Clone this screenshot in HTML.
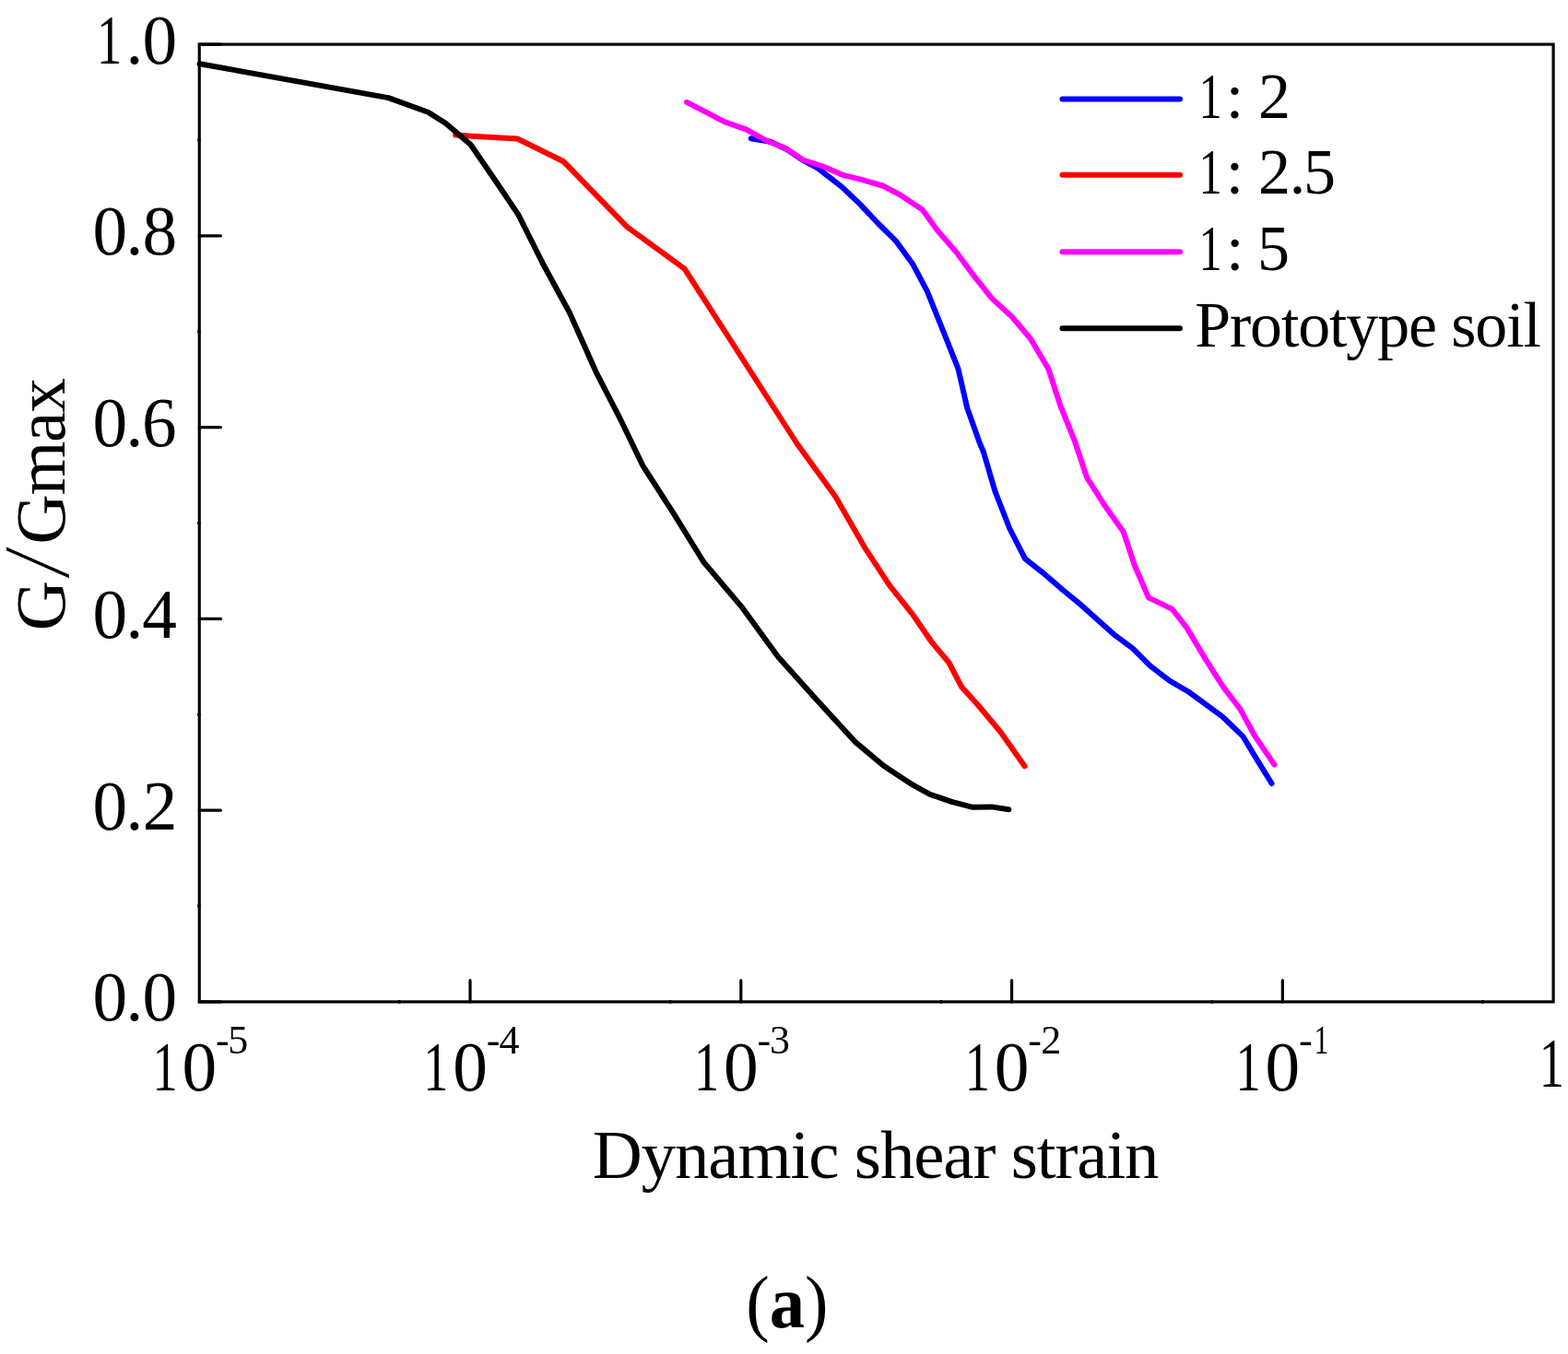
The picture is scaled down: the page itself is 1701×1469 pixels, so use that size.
<!DOCTYPE html><html><head><meta charset="utf-8"><style>html,body{margin:0;padding:0;background:#fff;overflow:hidden}svg{display:block}text{font-family:"Liberation Serif","Times New Roman",serif;fill:#000}</style></head><body>
<svg width="1701" height="1469" viewBox="0 0 1701 1469">
<rect width="1701" height="1469" fill="#fff"/>
<polyline points="494.2,146.6 561.3,150.5 611.5,175.3 680.2,246.1 742.6,291.6 864.4,481.0 906.3,538.7 939.1,595.7 964.8,634.8 990.5,667.2 1010.3,696.0 1029.5,719.0 1043.0,745.0 1061.0,765.0 1085.3,794.0 1111.6,831.2" fill="none" stroke="#ff0000" stroke-width="6.0" stroke-linejoin="round" stroke-linecap="round"/>
<polyline points="814.7,150.3 835.8,153.8 853.5,162.0 869.3,172.8 887.0,182.3 913.4,202.9 932.8,221.4 952.2,242.0 971.6,261.1 990.0,286.2 1005.9,316.1 1022.6,357.6 1039.4,399.9 1049.1,442.2 1062.3,479.3 1067.0,490.6 1079.4,532.9 1095.3,573.5 1112.0,606.1 1134.1,623.7 1153.5,640.5 1172.9,656.4 1208.1,688.1 1228.7,703.3 1247.7,722.3 1268.9,738.6 1289.3,750.5 1326.0,777.4 1348.6,799.2 1363.4,823.9 1379.6,850.0" fill="none" stroke="#0000ff" stroke-width="6.0" stroke-linejoin="round" stroke-linecap="round"/>
<polyline points="745.0,110.8 786.4,132.3 809.4,140.3 830.5,152.0 851.7,160.6 871.1,173.5 892.3,180.3 913.4,189.6 934.6,194.9 957.5,201.5 976.9,211.7 1000.7,227.6 1016.6,249.6 1037.6,273.8 1057.9,301.1 1076.4,324.1 1097.6,343.5 1117.8,367.3 1137.2,399.9 1150.5,440.5 1165.5,477.5 1179.0,517.9 1197.5,547.0 1218.7,577.0 1231.1,614.0 1246.0,648.4 1271.6,660.8 1287.5,681.1 1307.0,713.9 1326.7,744.9 1345.1,768.9 1361.3,798.5 1382.5,829.6" fill="none" stroke="#ff00ff" stroke-width="6.0" stroke-linejoin="round" stroke-linecap="round"/>
<polyline points="216.6,69.2 421.4,106.1 464.5,121.7 483.8,134.0 510.6,157.0 536.6,194.8 562.3,232.9 588.5,285.2 618.0,339.5 647.6,405.7 674.2,457.2 697.2,505.0 730.3,556.4 763.3,609.7 804.3,658.1 844.0,712.5 884.8,758.0 927.4,804.6 958.5,830.8 989.5,851.2 1008.9,861.8 1033.2,870.2 1055.5,875.8 1075.9,875.4 1094.3,878.3" fill="none" stroke="#000000" stroke-width="6.0" stroke-linejoin="round" stroke-linecap="round"/>
<rect x="216.25" y="48.1" width="1468.85" height="1038.80" fill="none" stroke="#000" stroke-width="3.2"/>
<path d="M216.25,48.10H239.45 M216.25,255.86H239.45 M216.25,463.62H239.45 M216.25,671.38H239.45 M216.25,879.14H239.45 M216.25,1086.90H239.45 M510.02,1086.9V1063.70 M803.79,1086.9V1063.70 M1097.56,1086.9V1063.70 M1391.33,1086.9V1063.70" stroke="#000" stroke-width="3.2" fill="none" stroke-linecap="round"/>
<g fill="#000"><circle cx="433.35" cy="1086.90" r="1.9"/><circle cx="727.12" cy="1086.90" r="1.9"/><circle cx="1020.89" cy="1086.90" r="1.9"/><circle cx="1314.66" cy="1086.90" r="1.9"/><circle cx="1608.43" cy="1086.90" r="1.9"/><circle cx="215.95" cy="983.02" r="1.9"/><circle cx="215.95" cy="775.26" r="1.9"/><circle cx="215.95" cy="567.50" r="1.9"/><circle cx="215.95" cy="359.74" r="1.9"/><circle cx="215.95" cy="151.98" r="1.9"/></g>
<text y="68.60" font-size="75.3"><tspan x="104.91" textLength="27.17" lengthAdjust="spacingAndGlyphs">1</tspan><tspan x="136.59">.</tspan><tspan x="154.38">0</tspan></text>
<text y="276.36" font-size="75.3"><tspan x="100.42">0</tspan><tspan x="136.59">.</tspan><tspan x="154.38">8</tspan></text>
<text y="484.12" font-size="75.3"><tspan x="100.42">0</tspan><tspan x="136.59">.</tspan><tspan x="153.88">6</tspan></text>
<text y="691.88" font-size="75.3"><tspan x="100.42">0</tspan><tspan x="136.59">.</tspan><tspan x="154.23">4</tspan></text>
<text y="899.64" font-size="75.3"><tspan x="100.42">0</tspan><tspan x="136.59">.</tspan><tspan x="154.80">2</tspan></text>
<text y="1107.40" font-size="75.3"><tspan x="100.42">0</tspan><tspan x="136.59">.</tspan><tspan x="154.38">0</tspan></text>
<text y="1183.10" font-size="75.3"><tspan x="165.41" textLength="27.17" lengthAdjust="spacingAndGlyphs">1</tspan><tspan x="197.48">0</tspan></text>
<text y="1142.90" font-size="44.0"><tspan x="233.90">-</tspan><tspan x="247.33">5</tspan></text>
<text y="1183.10" font-size="75.3"><tspan x="459.18" textLength="27.17" lengthAdjust="spacingAndGlyphs">1</tspan><tspan x="491.25">0</tspan></text>
<text y="1142.90" font-size="44.0"><tspan x="527.67">-</tspan><tspan x="541.43">4</tspan></text>
<text y="1183.10" font-size="75.3"><tspan x="752.95" textLength="27.17" lengthAdjust="spacingAndGlyphs">1</tspan><tspan x="785.01">0</tspan></text>
<text y="1142.90" font-size="44.0"><tspan x="821.44">-</tspan><tspan x="835.10">3</tspan></text>
<text y="1183.10" font-size="75.3"><tspan x="1046.72" textLength="27.17" lengthAdjust="spacingAndGlyphs">1</tspan><tspan x="1078.78">0</tspan></text>
<text y="1142.90" font-size="44.0"><tspan x="1115.21">-</tspan><tspan x="1129.31">2</tspan></text>
<text y="1183.10" font-size="75.3"><tspan x="1340.49" textLength="27.17" lengthAdjust="spacingAndGlyphs">1</tspan><tspan x="1372.55">0</tspan></text>
<text y="1142.90" font-size="44.0"><tspan x="1408.98">-</tspan><tspan x="1425.45" textLength="15.88" lengthAdjust="spacingAndGlyphs">1</tspan></text>
<text y="1178.90" font-size="75.3"><tspan x="1669.86" textLength="27.17" lengthAdjust="spacingAndGlyphs">1</tspan></text>
<text x="642.75" y="1277.9" font-size="74.8" letter-spacing="-1.094">Dynamic shear strain</text>
<g transform="translate(70.2,684.3) rotate(-90)"><text x="0" y="0" font-size="75.4">G</text><text transform="translate(57.2,4.2) skewX(-10.1) scale(0.765,1)" x="0" y="0" font-size="101.7">/</text><text x="93.8" y="0" font-size="75.4" letter-spacing="-1.23">Gmax</text></g>
<line x1="1152.5" y1="107.6" x2="1280" y2="107.6" stroke="#0000ff" stroke-width="6.0" stroke-linecap="round"/>
<line x1="1152.5" y1="189.8" x2="1280" y2="189.8" stroke="#ff0000" stroke-width="6.0" stroke-linecap="round"/>
<line x1="1152.5" y1="273.3" x2="1280" y2="273.3" stroke="#ff00ff" stroke-width="6.0" stroke-linecap="round"/>
<line x1="1152.5" y1="356.2" x2="1280" y2="356.2" stroke="#000000" stroke-width="6.0" stroke-linecap="round"/>
<text y="128.00" font-size="70.0"><tspan x="1300.42" textLength="25.26" lengthAdjust="spacingAndGlyphs">1</tspan><tspan x="1329.84">:</tspan> <tspan x="1364.94">2</tspan></text>
<text y="210.00" font-size="70.0"><tspan x="1300.42" textLength="25.26" lengthAdjust="spacingAndGlyphs">1</tspan><tspan x="1329.84">:</tspan> <tspan x="1364.94">2</tspan><tspan x="1398.65">.</tspan><tspan x="1414.03">5</tspan></text>
<text y="292.80" font-size="70.0"><tspan x="1300.47" textLength="25.26" lengthAdjust="spacingAndGlyphs">1</tspan><tspan x="1329.94">:</tspan> <tspan x="1363.88">5</tspan></text>
<text x="1296.19" y="376.4" font-size="69.9" letter-spacing="-1.121">Prototype soil</text>
<g transform="translate(853.85,1439.8) scale(0.945,1)"><text x="0" y="0" font-size="81" text-anchor="middle">(<tspan font-weight="bold">a</tspan>)</text></g>
</svg></body></html>
